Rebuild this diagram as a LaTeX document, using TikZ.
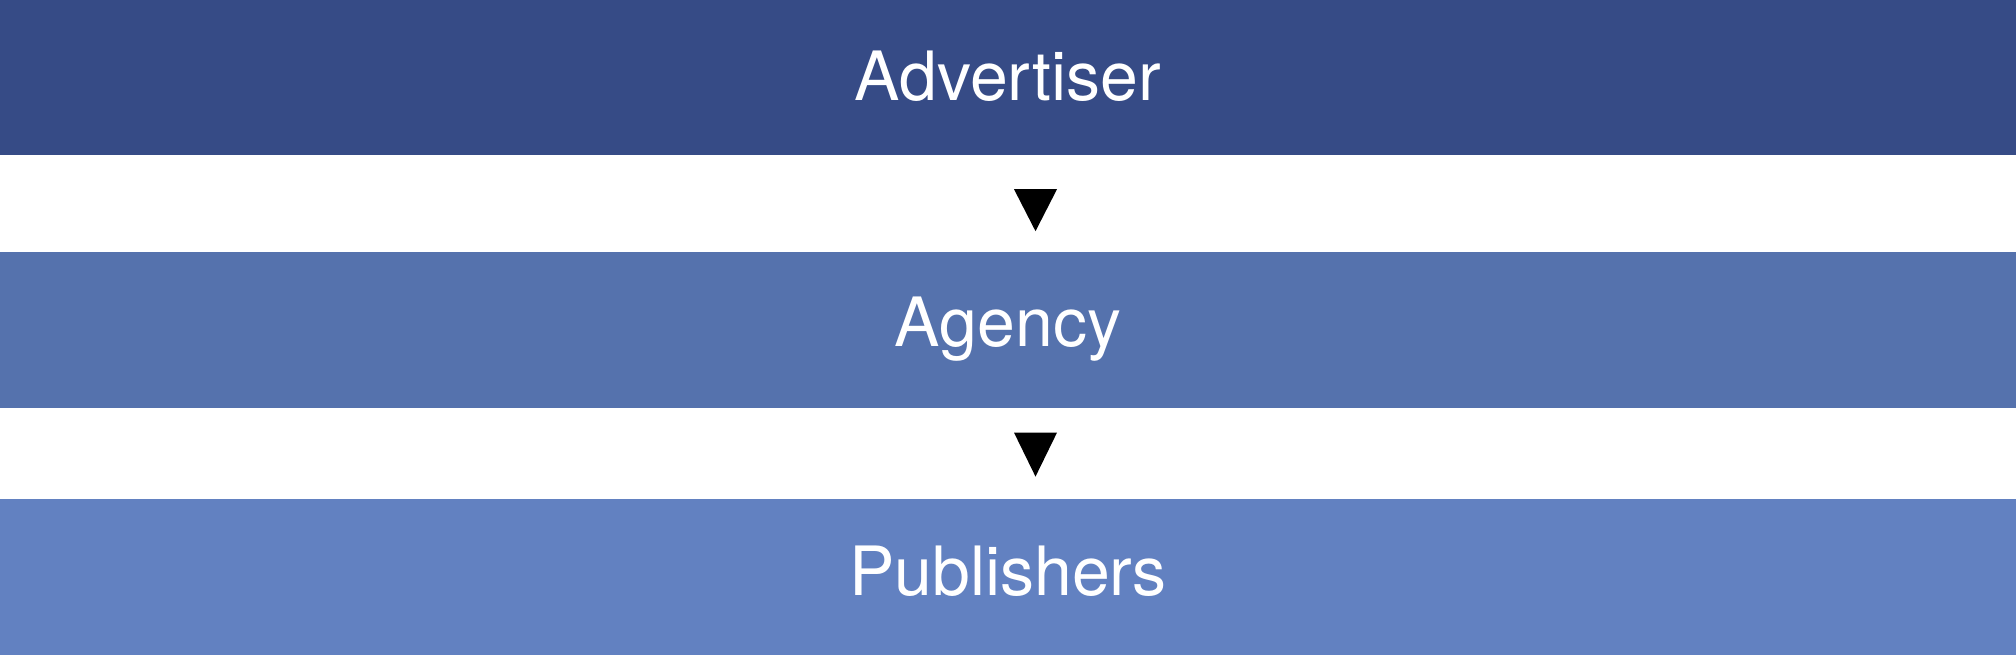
\documentclass[tikz,border=0pt]{standalone}
\usepackage{fontspec}
\setmainfont{TeX Gyre Heros}
\usetikzlibrary{positioning}
\definecolor{advblue}{HTML}{364B86}
\definecolor{agencyblue}{HTML}{5572AD}
\definecolor{pubblue}{HTML}{6281C1}
\tikzset{
  layer/.style={rectangle, inner sep=0pt, minimum width=2016pt, text=white,
    text height=49pt, font=\fontsize{68}{80}\selectfont},
  flowtip/.style={fill=black}
}
\begin{document}
\begin{tikzpicture}
    \useasboundingbox (0,0) rectangle (2016pt,-657pt);

    \node[layer, fill=advblue, minimum height=155pt, text depth=4pt] (adv) at (1008pt,-77.5pt) {Advertiser};
    \node[layer, fill=agencyblue, minimum height=156pt, text depth=17pt, below=97pt of adv] (agency) {Agency};
    \node[layer, fill=pubblue, minimum height=156pt, text depth=11pt, below=90pt of agency] (pubs) {Publishers};

    \fill[flowtip] ([xshift=6pt,yshift=-34pt]adv.south) -- ++(43pt,0) -- ++(-21.5pt,-42pt) -- cycle;
    \fill[flowtip] ([xshift=6pt,yshift=-24pt]agency.south) -- ++(43pt,0) -- ++(-21.5pt,-44pt) -- cycle;
\end{tikzpicture}
\end{document}
